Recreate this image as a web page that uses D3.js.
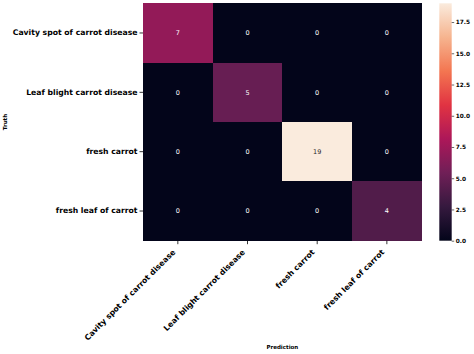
<!DOCTYPE html>
<html><head><meta charset="utf-8">
<script src="https://cdn.jsdelivr.net/npm/d3@7"></script>
<style>body{margin:0;background:#fff}svg{display:block}text{font-family:"DejaVu Sans",sans-serif}</style>
</head><body><svg id="c" width="474" height="354"></svg>
<script>
const categories = ["Cavity spot of carrot disease","Leaf blight carrot disease","fresh carrot","fresh leaf of carrot"];
const matrix = [
  [7,0,0,0],
  [0,5,0,0],
  [0,0,19,0],
  [0,0,0,4]
];
const cbarTicks = [0,2.5,5,7.5,10,12.5,15,17.5];
const rocketStops = ["#03051a","#35193e","#701f57","#ad1759","#e13342","#f37651","#f6b48f","#faebdd"];

const svg = d3.select("#c");
const L=143, R=421.7, T=3.3, B=240.7;
const x = d3.scaleBand().domain(categories).range([L,R]);
const y = d3.scaleBand().domain(categories).range([T,B]);
const vmax = d3.max(matrix.flat()), vmin = d3.min(matrix.flat());
const rocket = d3.scaleLinear().domain(rocketStops.map((d,i)=>i/(rocketStops.length-1))).range(rocketStops).interpolate(d3.interpolateRgb);
const color = v => rocket((v-vmin)/(vmax-vmin));

const cells = [];
matrix.forEach((row,i)=>row.forEach((v,j)=>cells.push({r:categories[i],c:categories[j],v})));
svg.append("g").attr("shape-rendering","crispEdges").selectAll("rect").data(cells).join("rect")
  .attr("x",d=>x(d.c)).attr("y",d=>y(d.r))
  .attr("width",x.bandwidth()+0.5).attr("height",y.bandwidth()+0.5)
  .attr("fill",d=>color(d.v));
svg.append("g").selectAll("text").data(cells).join("text")
  .attr("x",d=>x(d.c)+x.bandwidth()/2).attr("y",d=>y(d.r)+y.bandwidth()/2)
  .attr("dy","0.35em").attr("text-anchor","middle").attr("font-size",6.5)
  .attr("fill",d=>(d.v-vmin)/(vmax-vmin)>0.6?"#262626":"#ffffff")
  .text(d=>d.v);

// y axis
const ya = svg.append("g").attr("transform",`translate(${L},0)`)
  .call(d3.axisLeft(y).tickSize(3.5).tickPadding(2));
ya.select(".domain").remove();
ya.selectAll("text").attr("font-size",7.7).attr("font-weight","bold").attr("font-family","DejaVu Sans").attr("fill","#000");
ya.selectAll("line").attr("stroke","#000").attr("stroke-width",0.8);

// x axis
const xa = svg.append("g").attr("transform",`translate(0,${B})`)
  .call(d3.axisBottom(x).tickSize(3.5).tickPadding(2));
xa.select(".domain").remove();
xa.selectAll("line").attr("stroke","#000").attr("stroke-width",0.8);
xa.selectAll("text").attr("font-size",7.7).attr("font-weight","bold").attr("font-family","DejaVu Sans").attr("fill","#000")
  .attr("text-anchor","end").attr("dy",null).attr("y",0)
  .attr("transform","translate(-2,12) rotate(-45)");

svg.append("text").attr("x",(L+R)/2).attr("y",349).attr("text-anchor","middle").attr("font-size",5.5).attr("font-weight","bold").attr("fill","#000").text("Prediction");
svg.append("text").attr("transform",`translate(7,${(T+B)/2}) rotate(-90)`).attr("text-anchor","middle").attr("font-size",5.5).attr("font-weight","bold").attr("fill","#000").text("Truth");

// colorbar
const cbL=439.3, cbW=12.4;
const defs = svg.append("defs");
const grad = defs.append("linearGradient").attr("id","g").attr("x1",0).attr("x2",0).attr("y1",1).attr("y2",0);
rocketStops.forEach((c,i)=>grad.append("stop").attr("offset",i/(rocketStops.length-1)).attr("stop-color",c));
svg.append("rect").attr("x",cbL).attr("y",T).attr("width",cbW).attr("height",B-T).attr("fill","url(#g)");
const cy = d3.scaleLinear().domain([vmin,vmax]).range([B,T]);
const ca = svg.append("g").attr("transform",`translate(${cbL+cbW},0)`)
  .call(d3.axisRight(cy).tickValues(cbarTicks).tickFormat(d3.format(".1f")).tickSize(2.5).tickPadding(1.5));
ca.select(".domain").remove();
ca.selectAll("text").attr("font-size",5.8).attr("font-weight","bold").attr("font-family","DejaVu Sans").attr("fill","#000");
ca.selectAll("line").attr("stroke","#000").attr("stroke-width",0.6);
</script></body></html>
